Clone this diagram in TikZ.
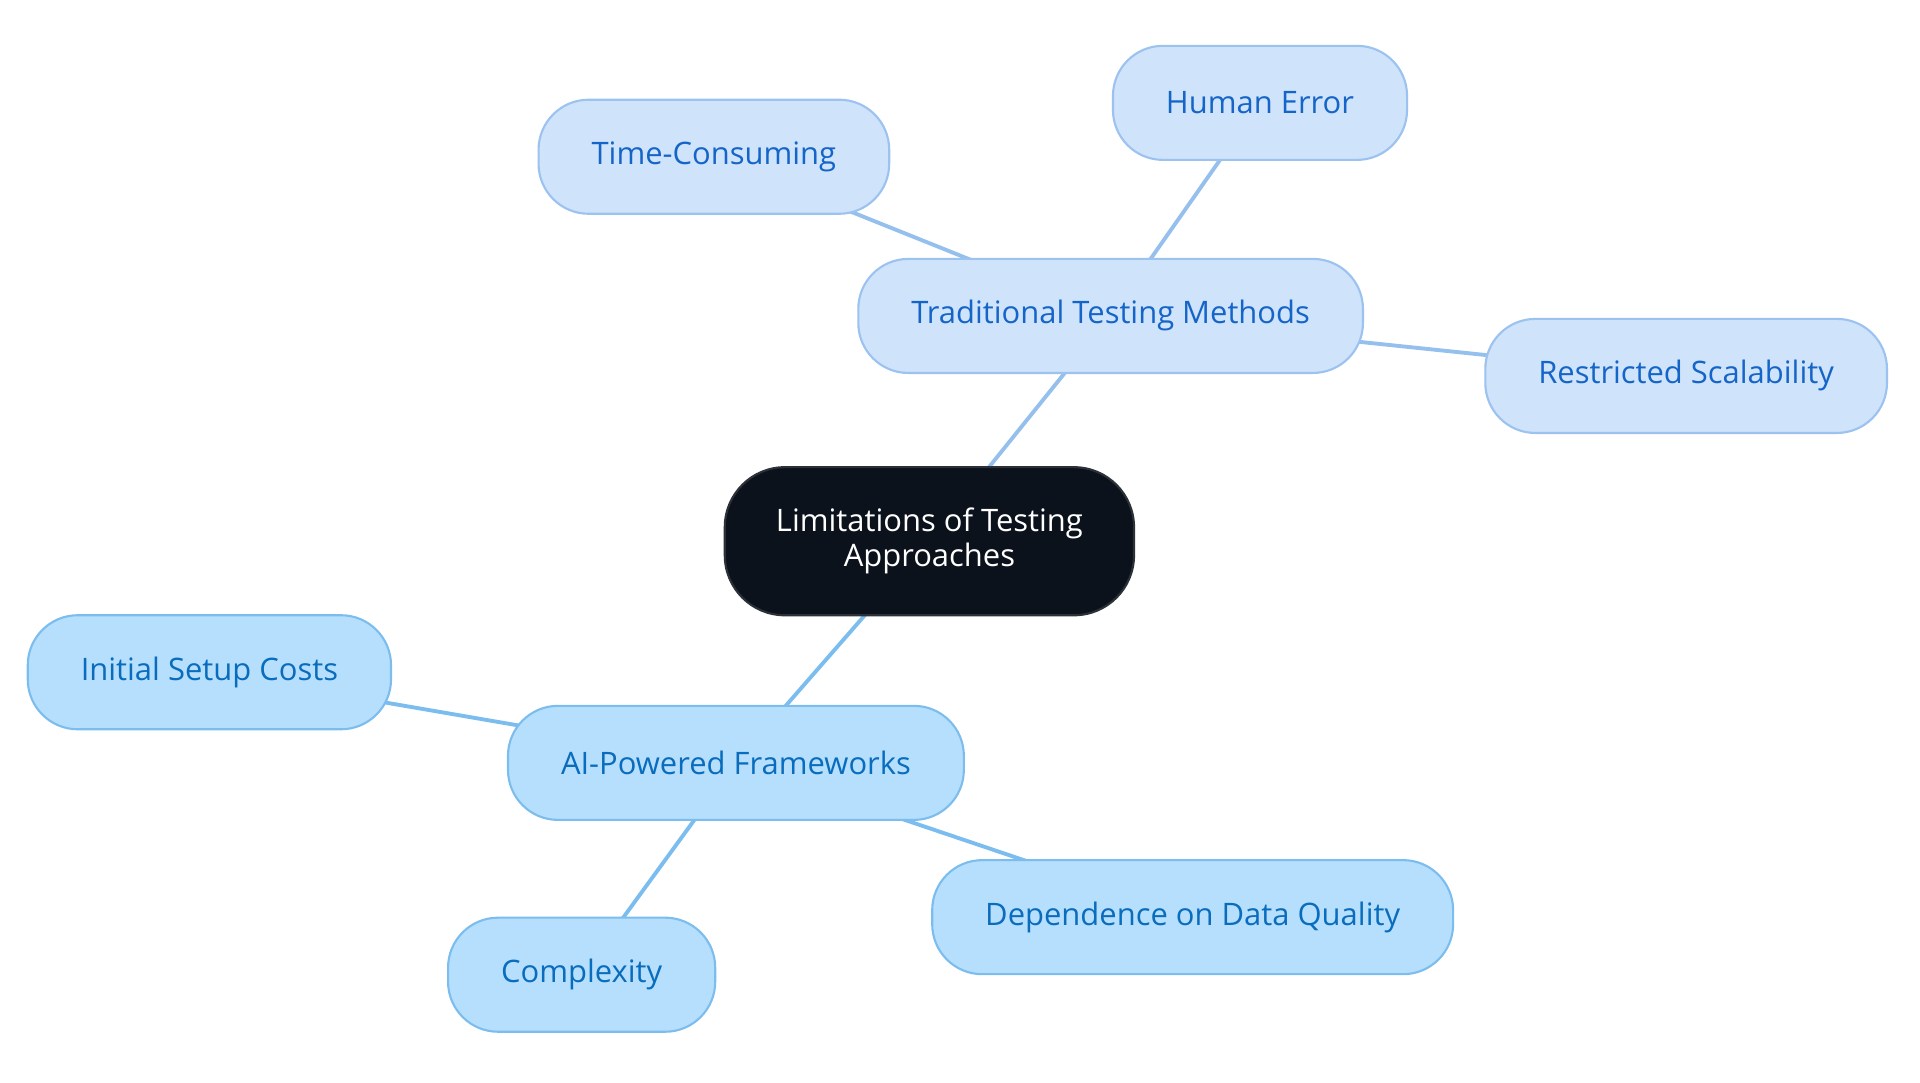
\documentclass[tikz,border=0pt]{standalone}
\usepackage{fontspec}
\setmainfont{Open Sans}
\usetikzlibrary{positioning, backgrounds}
\definecolor{rootfill}{RGB}{12, 18, 28}
\definecolor{rootdraw}{RGB}{44, 49, 56}
\definecolor{tradfill}{RGB}{207, 227, 250}
\definecolor{traddraw}{RGB}{156, 194, 240}
\definecolor{tradtext}{RGB}{21, 101, 200}
\definecolor{tradline}{RGB}{149, 192, 238}
\definecolor{aifill}{RGB}{181, 223, 253}
\definecolor{aidraw}{RGB}{124, 189, 237}
\definecolor{aitext}{RGB}{10, 108, 188}
\definecolor{ailine}{RGB}{124, 189, 239}

\begin{document}
\begin{tikzpicture}[
    x=0.012245cm, y=-0.012245cm,
    root/.style={rectangle, draw=rootdraw, fill=rootfill, line width=0.6pt, rounded corners=0.6cm, minimum width=4.09cm, minimum height=1.48cm, align=center, text=white, font=\fontsize{8.8}{10}\selectfont},
    trad/.style={rectangle, draw=traddraw, fill=tradfill, line width=0.6pt, rounded corners=0.5cm, inner xsep=0.53cm, minimum height=1.14cm, text=tradtext, font=\fontsize{8.8}{10}\selectfont},
    ai/.style={trad, draw=aidraw, fill=aifill, text=aitext},
    tradlink/.style={draw=tradline, line width=1.1pt},
    ailink/.style={draw=ailine, line width=1.1pt}
]
\useasboundingbox (0,0) rectangle (1568,884);

% Centru
\node[root] (root) at (759,442) {Limitations of Testing\\Approaches};

% Ramura de sus
\node[trad] (trad) at (907,258) {Traditional Testing Methods};
\node[trad] (time) at (583,128) {Time-Consuming};
\node[trad] (human) at (1029,84) {Human Error};
\node[trad] (scale) at (1377,307) {Restricted Scalability};

% Ramura de jos
\node[ai] (aifw) at (601,623) {AI-Powered Frameworks};
\node[ai] (setup) at (171,549) {Initial Setup Costs};
\node[ai] (complex) at (475,796) {Complexity};
\node[ai] (data) at (974,749) {Dependence on Data Quality};

% Legaturi
\begin{scope}[on background layer]
\draw[tradlink] (root.center) -- (trad.center);
\draw[tradlink] (trad.center) -- (time.center);
\draw[tradlink] (trad.center) -- (human.center);
\draw[tradlink] (trad.center) -- (scale.center);
\draw[ailink] (root.center) -- (aifw.center);
\draw[ailink] (aifw.center) -- (setup.center);
\draw[ailink] (aifw.center) -- (complex.center);
\draw[ailink] (aifw.center) -- (data.center);
\end{scope}

\end{tikzpicture}
\end{document}
